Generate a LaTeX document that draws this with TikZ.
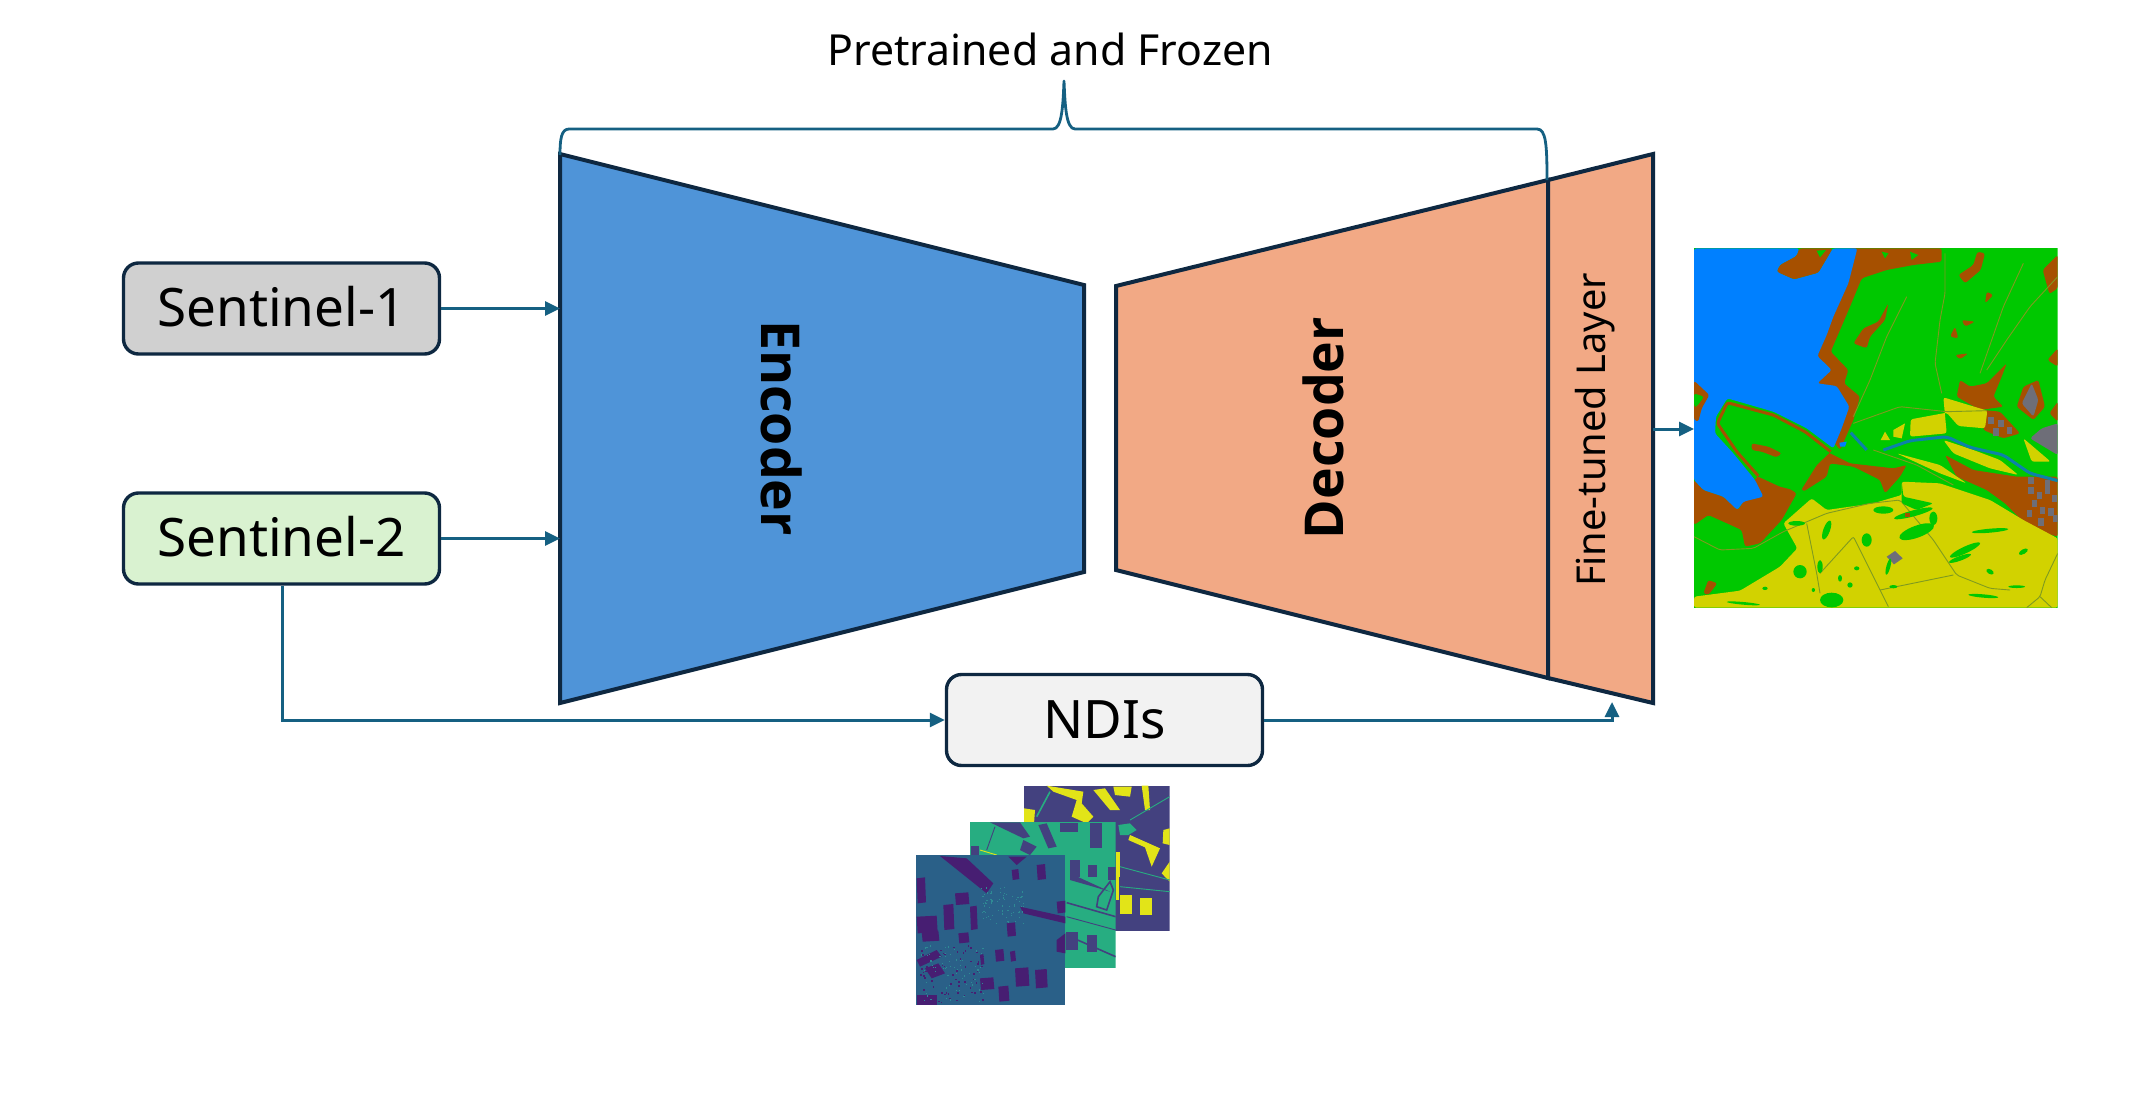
\documentclass[tikz,border=0pt]{standalone}
\usepackage{fontspec}
\setmainfont{Noto Sans}
\newfontfamily\titlefont{Open Sans}
\usetikzlibrary{arrows.meta}
\definecolor{edge}{HTML}{0E2841}
\definecolor{conn}{HTML}{156082}
\definecolor{encfill}{HTML}{4F94D8}
\definecolor{decfill}{HTML}{F2A985}
\definecolor{sone}{HTML}{D0D0D0}
\definecolor{stwo}{HTML}{D9F2D0}
\definecolor{ndif}{HTML}{F2F2F2}
\definecolor{mblue}{HTML}{0080FF}
\definecolor{mgreen}{HTML}{00C800}
\definecolor{mbrown}{HTML}{A65000}
\definecolor{myellow}{HTML}{D2D200}
\definecolor{mgray}{HTML}{6E6E78}
\definecolor{mriver}{HTML}{0C82A8}
\definecolor{mroad}{HTML}{7F9A20}
\definecolor{vyellow}{HTML}{E2E418}
\definecolor{vindigo}{HTML}{43417F}
\definecolor{vgreen}{HTML}{27AD81}
\definecolor{vteal}{HTML}{2A6088}
\definecolor{vpurple}{HTML}{471E72}
\definecolor{vlight}{HTML}{35B4A0}
\tikzset{
  databox/.style={draw=edge,line width=1.7pt,rounded corners=7.5pt,minimum width=158pt,minimum height=45.5pt,inner sep=0pt,text depth=2.5pt,font=\fontsize{26.5}{30}\selectfont},
  block/.style={draw=edge,line width=2pt,line join=miter},
  link/.style={draw=conn,line width=1.5pt,-{Triangle[length=7.5pt,width=7pt]}},
  plain/.style={draw=conn,line width=1.4pt},
  blocktitle/.style={font=\titlefont\fontsize{26.8}{30}\selectfont\bfseries,inner sep=0pt},
  smalltitle/.style={font=\fontsize{19.9}{23}\selectfont,inner sep=0pt},
  org/.style={rounded corners=1.2pt},
  road/.style={draw=mroad,line width=0.45pt,rounded corners=1pt},
  thinline/.style={line width=0.45pt}
}
\begin{document}
\begin{tikzpicture}[x=0.5pt,y=-0.5pt]
\useasboundingbox (0,0) rectangle (2152,1108);

% coordinates of the blocks
\coordinate (eTL) at (560,154);
\coordinate (eBL) at (560,703);
\coordinate (eTR) at (1084,285);
\coordinate (eBR) at (1084,572);
\coordinate (dTL) at (1116,286);
\coordinate (dBL) at (1116,570);
\coordinate (dTM) at (1548,180);
\coordinate (dBM) at (1548,678);
\coordinate (fTR) at (1653,154);
\coordinate (fBR) at (1653,703);

\draw[block,fill=encfill] (eTL) -- (eTR) -- (eBR) -- (eBL) -- cycle;
\draw[block,fill=decfill] (dTL) -- (dTM) -- (dBM) -- (dBL) -- cycle;
\draw[block,fill=decfill] (dTM) -- (fTR) -- (fBR) -- (dBM) -- cycle;

\node[blocktitle,rotate=-90] (enc) at (782,428) {Encoder};
\node[blocktitle,rotate=90] (dec) at (1323,428) {Decoder};
\node[smalltitle,rotate=90] (fine) at (1595,430) {Fine-tuned Layer};
\node[font=\fontsize{21.4}{26}\selectfont,inner sep=0pt] (pre) at (1050,49) {Pretrained and Frozen};

\node[databox,fill=sone] (s1) at (281.5,308.5) {Sentinel-1};
\node[databox,fill=stwo] (s2) at (281.5,538.5) {Sentinel-2};
\node[databox,fill=ndif,text depth=0pt] (ndi) at (1104.5,720) {NDIs};

% connectors
\coordinate (mapin) at (1694,429);
\coordinate (fineout) at (1653,429);
\coordinate (ndiup) at (1612,702);
\coordinate (s2low) at (282,720);
\draw[link] (s1.east) -- (s1.east -| eTL);
\draw[link] (s2.east) -- (s2.east -| eTL);
\draw[link] (fineout) -- (mapin);
\draw[link] (s2.south -| s2low) -- (s2low) -- (ndi.west);
\draw[link] (ndi.east) -- (ndi.east -| ndiup) -- (ndiup);

% brace
\coordinate (bL) at (560,155);
\coordinate (bR) at (1547,180);
\coordinate (bT) at (1064,81);
\draw[plain,line join=round] (bL) .. controls (560,140) and (561,129) .. (569,129) -- (1053,129)
  .. controls (1062,129) and (1063,105) .. (bT)
  .. controls (1065,105) and (1066,129) .. (1075,129) -- (1537,129)
  .. controls (1546,129) and (1547,145) .. (bR);

% land-cover map, in units of one third of a pixel
\begin{scope}[shift={(1640,220)},x=0.16667pt,y=-0.16667pt]
\clip (162,85) rectangle (1253,1163);
\fill[mgreen] (162,85) rectangle (1253,1163);
% brown
\fill[mbrown,org] (630,85) -- (905,85) -- (905,125) -- (820,135) -- (740,150) -- (665,175) -- (630,260) -- (572,395) -- (625,450) -- (612,490) -- (660,530) -- (640,600) -- (600,690) -- (530,600) -- (520,400) -- cycle;
\fill[mgreen] (725,95) -- (745,100) -- (735,115) -- cycle;
\fill[mgreen] (810,95) -- (835,105) -- (815,120) -- cycle;
\fill[mbrown,org] (1012,95) -- (1035,100) -- (1022,150) -- (975,190) -- (955,165) -- (1000,135) -- cycle;
\fill[mbrown,org] (1253,105) -- (1208,150) -- (1228,222) -- (1253,205) -- cycle;
\fill[mbrown,org] (745,250) -- (735,300) -- (690,350) -- (680,385) -- (640,370) -- (670,325) -- (715,305) -- cycle;
\fill[mbrown,org] (965,300) -- (1005,305) -- (975,320) -- cycle;
\fill[mbrown,org] (1040,215) -- (1060,225) -- (1035,250) -- cycle;
\fill[mbrown,org] (945,320) -- (955,355) -- (930,350) -- cycle;
\fill[mbrown,org] (945,405) -- (985,400) -- (960,418) -- cycle;
\fill[mbrown,org] (960,480) -- (990,500) -- (1040,490) -- (1100,430) -- (1085,470) -- (1060,530) -- (1090,560) -- (1020,570) -- (950,530) -- cycle;
\fill[mbrown,org] (1253,385) -- (1222,420) -- (1253,440) -- cycle;
\fill[mbrown,org] (1150,500) -- (1195,480) -- (1215,560) -- (1180,600) -- (1130,560) -- cycle;
\fill[mbrown,org] (1253,545) -- (1228,580) -- (1253,605) -- cycle;
\fill[mbrown,org] (1030,570) -- (1080,575) -- (1140,640) -- (1090,655) -- (1030,630) -- cycle;
\fill[mbrown,org] (162,780) -- (190,810) -- (250,830) -- (295,870) -- (350,770) -- (390,770) -- (470,820) -- (425,900) -- (360,970) -- (315,980) -- (305,930) -- (250,905) -- (205,885) -- (162,915) -- cycle;
\fill[mbrown,org] (915,705) -- (1000,750) -- (1130,770) -- (1253,770) -- (1253,950) -- (1170,925) -- (1095,850) -- (1040,810) -- (950,770) -- cycle;
\fill[mbrown,org] (500,700) -- (560,695) -- (630,730) -- (760,745) -- (800,735) -- (780,770) -- (735,820) -- (720,780) -- (640,740) -- (570,730) -- (560,770) -- (490,815) -- (475,790) -- cycle;
\fill[mbrown,org] (190,1120) -- (205,1080) -- (232,1090) -- (205,1125) -- cycle;
% water
\fill[mblue,org] (162,85) -- (478,85) -- (470,108) -- (420,135) -- (410,155) -- (462,178) -- (535,158) -- (578,85) -- (652,85) -- (625,190) -- (580,290) -- (560,345) -- (532,408) -- (575,450) -- (532,490) -- (590,498) -- (628,560) -- (605,625) -- (580,685) -- (500,625) -- (400,575) -- (262,535) -- (228,590) -- (225,640) -- (280,700) -- (345,780) -- (370,830) -- (310,845) -- (292,870) -- (250,830) -- (190,810) -- (162,780) -- cycle;
% island in the water
\fill[mbrown,org] (478,85) -- (578,85) -- (535,158) -- (462,178) -- (410,155) -- (420,135) -- (470,108) -- cycle;
\fill[mgreen] (530,92) -- (558,90) -- (540,112) -- cycle;
% island, left
\fill[mbrown,org] (162,482) -- (208,525) -- (185,565) -- (175,605) -- (162,600) -- cycle;
\fill[mgreen,org] (162,520) -- (192,530) -- (170,560) -- (162,560) -- cycle;
% peninsula
\fill[mgreen,org] (232,610) -- (262,548) -- (400,585) -- (495,635) -- (572,695) -- (530,735) -- (480,815) -- (420,800) -- (355,770) -- (290,695) -- cycle;
\draw[mbrown,line width=1.5pt,org] (355,768) -- (290,695) -- (232,610) -- (262,548) -- (400,585) -- (495,635) -- (572,695);
\fill[mbrown,org] (335,670) -- (385,680) -- (425,700) -- (410,712) -- (365,695) -- (335,690) -- cycle;
% fields, yellow
\fill[myellow,org] (162,1163) -- (162,1130) -- (300,1112) -- (420,1040) -- (472,985) -- (430,910) -- (515,835) -- (560,870) -- (700,850) -- (785,825) -- (785,785) -- (900,790) -- (1050,840) -- (1150,900) -- (1253,955) -- (1253,1163) -- cycle;
\fill[myellow,org] (910,532) -- (1042,572) -- (1035,625) -- (955,618) -- (920,578) -- (812,598) -- (810,650) -- (920,640) -- cycle;
\fill[myellow] (760,630) -- (795,610) -- (785,655) -- (760,650) -- cycle;
\fill[myellow] (735,635) -- (750,660) -- (722,660) -- cycle;
\fill[myellow,org] (910,660) -- (1000,690) -- (1080,720) -- (1135,765) -- (1050,745) -- (940,700) -- cycle;
\fill[myellow,org] (770,700) -- (900,735) -- (980,790) -- (900,760) -- cycle;
\fill[myellow,org] (1150,655) -- (1232,725) -- (1175,725) -- cycle;
% grey built-up
\fill[mgray,org] (1253,610) -- (1205,625) -- (1170,655) -- (1253,705) -- cycle;
\fill[mgray,org] (1175,490) -- (1195,540) -- (1180,590) -- (1145,550) -- cycle;
\foreach \qx/\qy in {1045/590,1075/600,1060/625,1100/620,1165/800,1190/815,1215/800,1235/825,1175/840,1200/860,1225/865,1160/870,1195/895,1240/885,1165/770,1215/780}
  \fill[mgray] (\qx,\qy) rectangle ++(16,22);
\fill[mgray] (740,1010) -- (765,993) -- (788,1015) -- (762,1033) -- cycle;
% tracks
\draw[road] (800,230) -- (740,350) -- (690,480) -- (640,590);
\draw[road] (915,100) -- (915,220) -- (900,300) -- (885,430) -- (905,520);
\draw[road] (1150,130) -- (1090,260) -- (1020,460);
\draw[road] (1253,170) -- (1170,260) -- (1100,360) -- (1040,450);
\draw[road] (640,610) -- (780,560) -- (920,575) -- (1040,572);
\draw[road] (700,690) -- (830,735) -- (940,795);
\draw[road] (430,935) -- (560,880) -- (690,850) -- (780,840) -- (880,960) -- (950,1065) -- (1050,1105) -- (1110,1110);
\draw[road] (500,910) -- (530,1060) -- (540,1120);
\draw[road] (540,1060) -- (640,950) -- (700,1070) -- (745,1160);
\draw[road] (720,1110) -- (940,1065);
\draw[road] (162,950) -- (240,990) -- (340,985) -- (430,935);
\draw[road] (1253,1000) -- (1215,1080) -- (1200,1130) -- (1160,1163);
\draw[road] (1200,1130) -- (1235,1163);
% green on fields
\foreach \gx/\gy/\grx/\gry/\gan in {1050/932/55/6/5,975/990/50/10/25,960/1015/35/7/20,1050/1055/12/7/-30,1150/995/15/7/30,1030/1128/45/5/-5,575/1140/35/22/0,480/1055/20/20/0,540/1040/8/20/0,560/930/10/30/-20,470/910/25/7/0,730/870/30/11/0,680/960/15/20/0,820/880/60/9/15,830/935/55/18/20,880/895/12/20/0,650/1045/8/6/0,745/1040/6/25/-15,630/1095/8/8/0,600/1075/6/10/0,310/1150/50/4/-5,375/1105/8/5/0,520/1110/5/6/0,1130/1100/25/4/0,760/1100/12/5/0}
  \fill[mgreen,rotate around={\gan:(\gx,\gy)}] (\gx,\gy) ellipse ({\grx} and {\gry});
\fill[mgreen,org] (785,785) -- (785,850) -- (830,870) -- (880,850) -- (790,830) -- cycle;
\fill[mbrown] (795,878) rectangle (810,890);
% river
\draw[mriver,line width=1.5pt,rounded corners=2pt] (632,638) -- (680,690) ;
\draw[mriver,line width=1.5pt,rounded corners=2pt] (730,690) -- (810,662) -- (920,650) -- (990,682) -- (1090,705) -- (1170,760) -- (1253,782);
\fill[mblue] (598,668) -- (620,665) -- (615,680) -- (600,680) -- cycle;
\end{scope}

% index maps, in units of one third of a pixel
\begin{scope}[shift={(880,760)},x=0.16667pt,y=-0.16667pt]
% back
\begin{scope}
\clip (432,77) rectangle (869,514);
\fill[vindigo] (432,77) rectangle (869,514);
\fill[vyellow] (500,77) -- (610,95) -- (605,130) -- (640,170) -- (620,190) -- (575,170) -- (590,120) -- (520,95) -- cycle;
\fill[vyellow] (640,90) -- (675,85) -- (720,150) -- (690,150) -- cycle;
\fill[vyellow] (700,80) -- (755,80) -- (750,110) -- (705,105) -- cycle;
\fill[vyellow] (785,77) -- (805,77) -- (810,150) -- (795,150) -- cycle;
\fill[vyellow] (432,145) -- (465,150) -- (462,190) -- (432,190) -- cycle;
\fill[vyellow] (850,210) -- (869,205) -- (869,255) -- (848,250) -- cycle;
\fill[vyellow] (720,405) rectangle (757,462);
\fill[vyellow] (781,414) rectangle (815,465);
\fill[vyellow] (707,275) rectangle (720,350);
\fill[vyellow] (707,350) rectangle (716,420);
\fill[vyellow] (845,340) -- (869,305) -- (869,365) -- cycle;
\fill[vyellow] (750,225) -- (840,265) -- (815,320) -- (795,262) -- (745,240) -- cycle;
\fill[vgreen] (715,195) -- (750,190) -- (770,210) -- (745,225) -- (720,225) -- cycle;
\draw[vgreen,thinline] (750,180) -- (869,110);
\draw[vgreen,thinline] (720,320) -- (869,360);
\draw[vgreen,thinline] (720,380) -- (869,395);
\draw[vgreen,line width=0.8pt] (470,170) -- (510,95);
\end{scope}
% middle
\begin{scope}
\clip (270,187) rectangle (707,624);
\fill[vgreen] (270,187) rectangle (707,624);
\fill[vindigo] (330,187) -- (420,187) -- (450,230) -- (430,235) -- cycle;
\fill[vindigo] (475,195) -- (500,190) -- (530,260) -- (505,265) -- cycle;
\fill[vindigo] (540,190) rectangle (595,215);
\fill[vindigo] (630,190) rectangle (665,265);
\fill[vindigo] (430,240) -- (470,260) -- (450,285) -- (420,270) -- cycle;
\fill[vindigo] (272,258) rectangle (298,285);
\fill[vindigo] (570,300) -- (600,300) -- (600,350) -- (570,350) -- cycle;
\fill[vindigo] (625,315) rectangle (650,350);
\fill[vindigo] (685,320) rectangle (707,360);
\fill[vindigo] (558,515) rectangle (595,570);
\fill[vindigo] (620,525) rectangle (652,575);
\fill[vindigo] (570,340) -- (690,395) -- (640,380) -- (570,360) -- cycle;
\draw[vindigo,line width=0.8pt] (560,428) -- (707,470);
\draw[vindigo,thinline] (560,470) -- (707,510);
\draw[vindigo,line width=0.8pt] (570,530) -- (707,590);
\draw[vindigo,line width=0.8pt] (655,410) -- (690,365) -- (700,390) -- (680,450) -- (650,440) -- cycle;
\draw[vyellow,thinline] (300,270) -- (350,285);
\draw[vindigo,thinline] (345,200) -- (320,270);
\end{scope}
% front
\begin{scope}
\clip (108,286) rectangle (556,734);
\fill[vteal] (108,286) rectangle (556,734);
\foreach \px/\py/\pw/\ph in {110/355/25/75,225/400/40/35,190/435/30/75,270/440/20/70,110/470/60/50,125/515/50/30,235/520/30/30,380/490/25/40,405/625/40/55,465/630/35/55,300/655/40/35,355/680/30/45,470/315/25/45,530/425/26/35,395/330/20/30,345/570/25/35,390/575/15/30,300/585/10/30}
  \fill[vpurple] (\px,\py) -- ++(\pw,-3) -- ++(3,\ph) -- ++(-\pw,3) -- cycle;
\fill[vpurple] (180,288) -- (260,295) -- (340,370) -- (320,400) -- (270,360) -- cycle;
\fill[vpurple] (385,290) -- (440,290) -- (410,315) -- cycle;
\fill[vpurple] (420,440) -- (556,470) -- (556,490) -- (430,460) -- cycle;
\fill[vpurple] (110,600) -- (170,570) -- (185,590) -- (120,620) -- cycle;
\fill[vpurple] (135,625) -- (175,610) -- (195,640) -- (155,655) -- cycle;
\fill[vpurple] (530,540) -- (556,520) -- (556,580) -- (530,575) -- cycle;
\fill[vpurple] (110,705) rectangle (170,734);
\pgfmathsetseed{42}
\foreach \i in {1,...,70}{
  \pgfmathsetmacro{\sx}{300+rnd*130}
  \pgfmathsetmacro{\sy}{380+rnd*110}
  \fill[vlight!50!vteal] (\sx,\sy) rectangle ++(3.5,3.5);
  \pgfmathsetmacro{\tx}{120+rnd*190}
  \pgfmathsetmacro{\ty}{545+rnd*180}
  \fill[vlight!50!vteal] (\tx,\ty) rectangle ++(3.5,3.5);
  \pgfmathsetmacro{\ux}{120+rnd*190}
  \pgfmathsetmacro{\uy}{545+rnd*180}
  \fill[vpurple] (\ux,\uy) rectangle ++(5,5);
}
\end{scope}
\end{scope}
\end{tikzpicture}
\end{document}
